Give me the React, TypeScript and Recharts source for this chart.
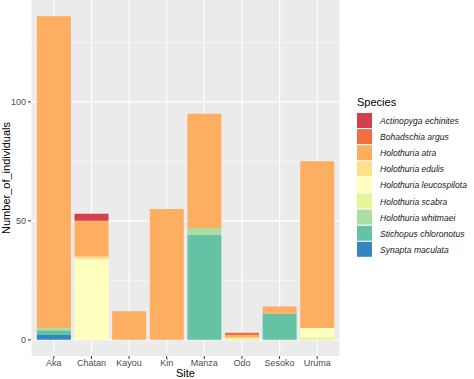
import { BarChart, Bar, XAxis, YAxis, CartesianGrid } from 'recharts';

// sites along the x axis
const sites = ['Aka', 'Chatan', 'Kayou', 'Kin', 'Manza', 'Odo', 'Sesoko', 'Uruma'];

// counts per species, one value per site
const actinopygaEchinites = [0, 3, 0, 0, 0, 0, 0, 0];
const bohadschiaArgus = [0, 0, 0, 0, 0, 1, 0, 0];
const holothuriaAtra = [131, 15, 12, 55, 48, 1, 3, 70];
const holothuriaEdulis = [0, 1, 0, 0, 0, 0, 0, 0];
const holothuriaLeucospilota = [0, 34, 0, 0, 0, 0, 0, 4];
const holothuriaScabra = [0, 0, 0, 0, 0, 1, 0, 1];
const holothuriaWhitmaei = [1, 0, 0, 0, 3, 0, 0, 0];
const stichopusChloronotus = [2, 0, 0, 0, 44, 0, 11, 0];
const synaptaMaculata = [2, 0, 0, 0, 0, 0, 0, 0];

const yTicks = [0, 50, 100];
const yMinorTicks = [25, 75, 125];

// legend order (top to bottom), ggplot stacks the first level on top
const species = [
  { key: 'Actinopyga echinites', values: actinopygaEchinites, color: '#D53E4F' },
  { key: 'Bohadschia argus', values: bohadschiaArgus, color: '#F46D43' },
  { key: 'Holothuria atra', values: holothuriaAtra, color: '#FDAE61' },
  { key: 'Holothuria edulis', values: holothuriaEdulis, color: '#FEE08B' },
  { key: 'Holothuria leucospilota', values: holothuriaLeucospilota, color: '#FFFFBF' },
  { key: 'Holothuria scabra', values: holothuriaScabra, color: '#E6F598' },
  { key: 'Holothuria whitmaei', values: holothuriaWhitmaei, color: '#ABDDA4' },
  { key: 'Stichopus chloronotus', values: stichopusChloronotus, color: '#66C2A5' },
  { key: 'Synapta maculata', values: synaptaMaculata, color: '#3288BD' },
];

const data = sites.map((site, i) => {
  const row: Record<string, string | number> = { site };
  species.forEach((s) => {
    row[s.key] = s.values[i];
  });
  return row;
});

const font = '"Liberation Sans", Arial, Helvetica, sans-serif';

function SpeciesLegend() {
  return (
    <svg width={119} height={170} style={{ position: 'absolute', left: 355, top: 95, fontFamily: font }}>
      <text x={2} y={11} fontSize={11} fill="#000">Species</text>
      {species.map((s, i) => (
        <g key={s.key}>
          <rect x={2} y={18 + i * 16.1} width={15} height={15} fill={s.color} />
          <text x={25} y={18 + i * 16.1 + 11} fontSize={8.6} fontStyle="italic" fill="#1a1a1a">
            {s.key}
          </text>
        </g>
      ))}
    </svg>
  );
}

export default function App() {
  return (
    <div style={{ position: 'absolute', left: 0, top: 0, width: 474, height: 379, background: '#fff', fontFamily: font }}>
      <BarChart
        width={474}
        height={379}
        data={data}
        margin={{ top: 0, right: 134, left: 0, bottom: 0 }}
        barCategoryGap="5%"
      >
        <CartesianGrid
          fill="#EBEBEB"
          stroke="#FFFFFF"
          strokeWidth={0.5}
          vertical={false}
          horizontalValues={yMinorTicks}
        />
        <CartesianGrid stroke="#FFFFFF" strokeWidth={1.1} horizontalValues={yTicks} />
        <XAxis
          dataKey="site"
          interval={0}
          padding={{ left: 4, right: 4 }}
          axisLine={false}
          tickSize={3}
          tickMargin={1}
          tickLine={{ stroke: '#333333' }}
          tick={{ fill: '#4D4D4D', fontSize: 9 }}
          height={23}
          label={{ value: 'Site', position: 'insideBottom', offset: 2, fill: '#000', fontSize: 11 }}
        />
        <YAxis
          type="number"
          domain={[-6.8, 142.8]}
          ticks={yTicks}
          allowDataOverflow
          width={31}
          axisLine={false}
          tickSize={3}
          tickMargin={2}
          tickLine={{ stroke: '#333333' }}
          tick={{ fill: '#4D4D4D', fontSize: 9 }}
          label={{
            value: 'Number_of_individuals',
            angle: -90,
            position: 'insideLeft',
            offset: 0,
            dx: 6,
            style: { textAnchor: 'middle', fill: '#000', fontSize: 11 },
          }}
        />
        {[...species].reverse().map((s) => (
          <Bar
            key={s.key}
            dataKey={s.key}
            stackId="a"
            fill={s.color}
            isAnimationActive={false}
          />
        ))}
      </BarChart>
      <SpeciesLegend />
    </div>
  );
}
